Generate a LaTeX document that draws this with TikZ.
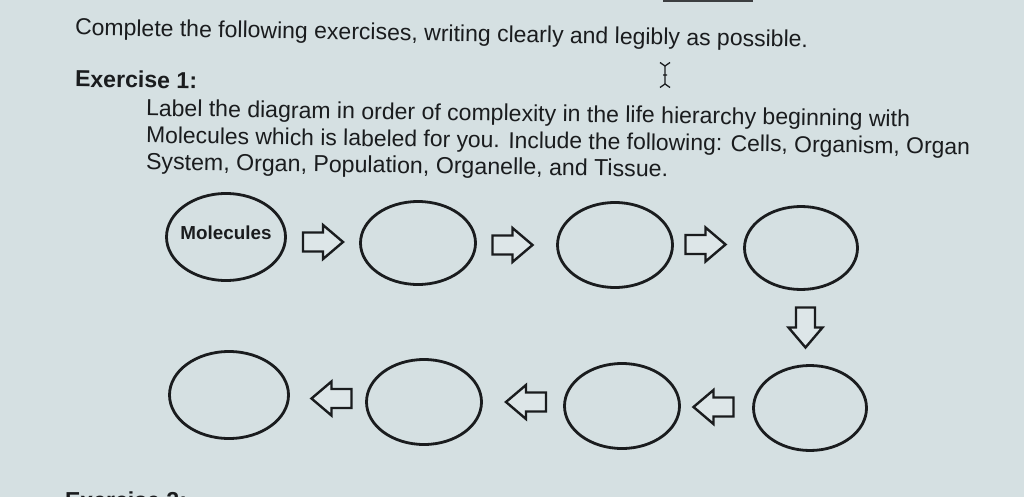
\documentclass[tikz,border=0pt]{standalone}
\usepackage{fontspec}
\setmainfont{Liberation Sans}
\usetikzlibrary{calc,shapes.geometric}
\definecolor{bg}{RGB}{213,224,226}
\definecolor{ink}{RGB}{26,28,30}
\newcommand{\fitw}[2]{\resizebox{#1}{!}{#2}}
\tikzset{
  ell/.style={ellipse, draw=ink, line width=2.8pt, inner sep=0pt},
  txt/.style={anchor=base west, inner sep=0pt, outer sep=0pt, text=ink, rotate=-0.8},
  lbl/.style={inner sep=0pt, text=ink},
  blk/.style={draw=ink, line width=2.4pt, fill=bg!80!white, line join=miter},
  pics/barrow/.style={code={
    \path[blk] (-20,-9.5) -- (0,-9.5) -- (0,-17) -- (20,0) -- (0,17) -- (0,9.5) -- (-20,9.5) -- cycle;
  }}
}
\begin{document}
\begin{tikzpicture}[x=1pt,y=-1pt]
\clip (0,0) rectangle (1024,497);
\useasboundingbox (0,0) rectangle (1024,497);
\fill[bg] (0,0) rectangle (1024,497);
% thin dark bar at the top edge
\fill[ink!85] (663,0) rectangle (753,2);

% texts
\node[txt, rotate=-0.15] (t0) at (75,35) {\fitw{733pt}{Complete the following exercises, writing clearly and legibly as possible.}};
\node[txt] (t1) at (75,87) {\fitw{122pt}{\bfseries Exercise 1:}};
\node[txt] (t2) at (146,116) {\fitw{764pt}{Label the diagram in order of complexity in the life hierarchy beginning with}};
\node[txt] (t3) at (146,143) {\fitw{824pt}{Molecules which is labeled for you. Include the following: Cells, Organism, Organ}};
\node[txt] (t4) at (146,169.5) {\fitw{522pt}{System, Organ, Population, Organelle, and Tissue.}};
\node[txt, rotate=0.8] (t5) at (65,508) {\fitw{122pt}{\bfseries Exercise 2:}};

% text cursor
\draw[ink, line width=1.3pt] (660,62.5) -- (665,66) -- (670,62.5)
  (665,66) -- (665,84) (660,87.5) -- (665,84) -- (670,87.5)
  (663,75) -- (667,75);

% ellipses, top row
\node[ell, minimum width=119pt, minimum height=87pt] (e1) at (226,237) {};
\node[lbl] (m) at ($(e1.center)+(0,-4)$) {\fitw{91pt}{\bfseries Molecules}};
\node[ell, minimum width=115pt, minimum height=83pt] (e2) at (418,243) {};
\node[ell, minimum width=115pt, minimum height=85pt] (e3) at (615,245) {};
\node[ell, minimum width=113pt, minimum height=83pt] (e4) at (801,248) {};
% ellipses, bottom row
\node[ell, minimum width=113pt, minimum height=85pt] (b4) at (810,408) {};
\node[ell, minimum width=115pt, minimum height=85pt] (b3) at (622,406) {};
\node[ell, minimum width=115pt, minimum height=85pt] (b2) at (424,402) {};
\node[ell, minimum width=119pt, minimum height=87pt] (b1) at (229,395) {};

% block arrows
\pic at ($(e1.east)!0.5!(e2.west)+(0,2)$) {barrow};
\pic at ($(e2.east)!0.5!(e3.west)+(-4,1)$) {barrow};
\pic at ($(e3.east)!0.5!(e4.west)+(-3,-2)$) {barrow};
\pic[rotate=-90] at ($(e4.south)!0.5!(b4.north)$) {barrow};
\pic[rotate=180] at ($(b4.west)!0.5!(b3.east)+(-3,0)$) {barrow};
\pic[rotate=180] at ($(b3.west)!0.5!(b2.east)+(3,-2)$) {barrow};
\pic[rotate=180] at ($(b2.west)!0.5!(b1.east)+(4,0)$) {barrow};
\end{tikzpicture}
\end{document}
